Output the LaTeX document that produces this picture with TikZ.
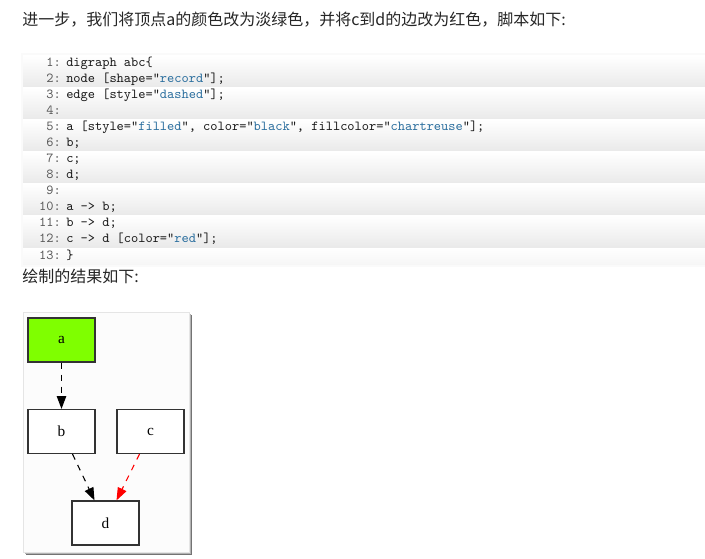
\documentclass[tikz,border=0pt]{standalone}
\usepackage{fontspec}
\setmainfont{Liberation Serif}
\newfontfamily\cjk{Noto Sans CJK SC}
\usetikzlibrary{arrows.meta,shadows}
\definecolor{chartreuse}{HTML}{7FFF00}
\definecolor{strcol}{HTML}{2A6E9E}
\definecolor{bandgray}{HTML}{E9E9E9}
\tikzset{
  para/.style={anchor=base west, inner sep=0pt, font=\cjk\fontsize{12pt}{14pt}\selectfont, text=black!85},
  lnum/.style={anchor=base east, inner sep=0pt, font=\ttfamily\fontsize{10.3pt}{12pt}\selectfont, text=black!65},
  codeline/.style={anchor=base west, inner sep=0pt, font=\ttfamily\fontsize{10.3pt}{12pt}\selectfont, text=black!90},
  gnode/.style={draw=black!80, line width=0.9pt, minimum width=67*0.75pt, minimum height=44*0.75pt, inner sep=0pt, font=\fontsize{11.5pt}{13pt}\selectfont},
  gedge/.style={line width=0.8pt, dash pattern=on 4.5pt off 4.5pt, -{Triangle[length=9.5pt,width=7pt]}},
}
\newcommand{\sv}[1]{\textcolor{strcol}{#1}}
\begin{document}
\begin{tikzpicture}[x=0.75pt,y=-0.75pt]
\useasboundingbox[fill=white] (0,0) rectangle (705,559);
% header text
\node[para] (t1) at (22,26) {进一步，我们将顶点a的颜色改为淡绿色，并将c到d的边改为红色，脚本如下:};
% code block background
\fill[black!2] (21,53) rectangle (705,267);
\foreach \i in {0,...,5} {
  \shade[top color=white, bottom color=bandgray] (23,56+32*\i) rectangle (705,88+32*\i);
}
\shade[top color=white, bottom color=white!60!bandgray] (23,248) rectangle (705,264);
% code lines
\foreach \n/\txt [count=\k from 0] in {
 1/{digraph abc\{},
 2/{node [shape="\sv{record}"];},
 3/{edge [style="\sv{dashed}"];},
 4/{},
 5/{a [style="\sv{filled}", color="\sv{black}", fillcolor="\sv{chartreuse}"];},
 6/{b;},
 7/{c;},
 8/{d;},
 9/{},
 10/{a -> b;},
 11/{b -> d;},
 12/{c -> d [color="\sv{red}"];},
 13/{\}}} {
  \node[lnum] (n\n) at (61,67+16*\k) {\n:};
  \node[codeline] (c\n) at (66,67+16*\k) {\txt};
}
\node[para] (t2) at (22,282) {绘制的结果如下:};
% graph frame with shadow
\fill[black!55] (26,315) rectangle (192,555);
\fill[black!30] (25,314) rectangle (191,554);
\fill[white!99!black, draw=black!10] (23,312) rectangle (189,552);
% nodes
\node[gnode, fill=chartreuse] (a) at (61.5,340) {a};
\node[gnode, fill=white] (b) at (61.5,431.5) {b};
\node[gnode, fill=white] (c) at (150.5,431.5) {c};
\node[gnode, fill=white] (d) at (105.5,523) {d};
% edges
\draw[gedge] (a.south) -- (b.north);
\draw[gedge] ([xshift=11*0.75pt]b.south) -- ([xshift=-11*0.75pt]d.north);
\draw[gedge, red] ([xshift=-11*0.75pt]c.south) -- ([xshift=11*0.75pt]d.north);
\end{tikzpicture}
\end{document}
